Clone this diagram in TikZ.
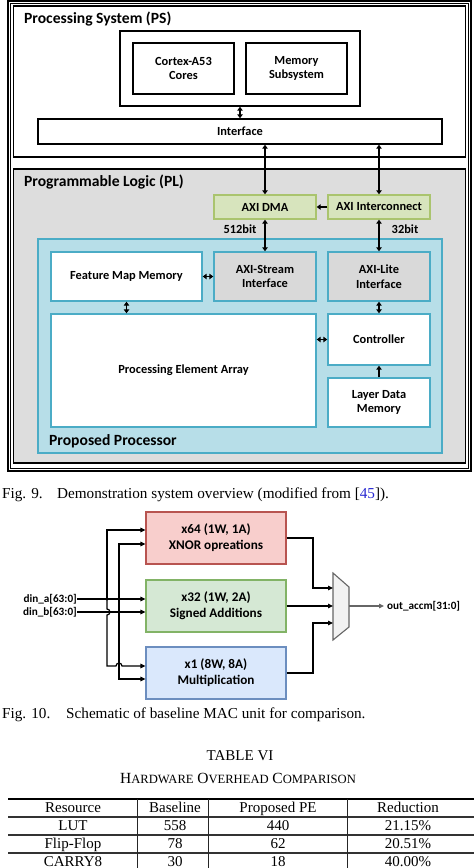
\documentclass[tikz,border=0pt]{standalone}
\usepackage{fontspec}
\setmainfont{Liberation Serif}
\newfontfamily\carl{Carlito}
\usetikzlibrary{arrows.meta,calc}
\definecolor{plgray}{RGB}{221,221,221}
\definecolor{axigreen}{RGB}{215,228,189}
\definecolor{axigreenb}{RGB}{170,196,110}
\definecolor{ppfill}{RGB}{183,222,232}
\definecolor{ppline}{RGB}{75,172,198}
\definecolor{ifgray}{RGB}{217,217,217}
\definecolor{xnorfill}{RGB}{248,206,204}
\definecolor{xnorline}{RGB}{184,84,80}
\definecolor{addfill}{RGB}{213,232,212}
\definecolor{addline}{RGB}{130,179,102}
\definecolor{mulfill}{RGB}{218,232,252}
\definecolor{mulline}{RGB}{108,142,191}
\definecolor{muxfill}{RGB}{242,242,242}
\definecolor{muxline}{RGB}{102,102,102}
\definecolor{citeblue}{RGB}{40,40,210}
\newcommand{\fsc}[2]{{\fontsize{15.5}{16}\selectfont #1}{\fontsize{12.6}{13}\selectfont #2}}
\begin{document}
\begin{tikzpicture}[x=1pt,y=-1pt,
  box/.style={draw, line width=1.4pt, align=center, inner sep=0pt,
    font=\carl\bfseries\fontsize{12.4}{14.5}\selectfont},
  blbox/.style={box, draw=ppline, fill=white},
  gbox/.style={box, draw=ppline, fill=ifgray},
  axbox/.style={box, draw=axigreenb, fill=axigreen},
  ttl/.style={font=\carl\bfseries\fontsize{15.6}{18}\selectfont, anchor=base west, inner sep=0pt},
  lbl/.style={font=\carl\bfseries\fontsize{12.4}{14}\selectfont, anchor=base, inner sep=0pt},
  darr/.style={{Triangle[length=4pt,width=5.5pt]}-{Triangle[length=4pt,width=5.5pt]}, line width=1.6pt},
  sarr/.style={-{Triangle[length=4pt,width=5.5pt]}, line width=1.6pt},
  mbox/.style={draw, line width=1.1pt, align=center, inner sep=0pt,
    minimum width=140pt, minimum height=52pt,
    font=\carl\bfseries\fontsize{13.2}{16}\selectfont},
  warr/.style={-{Triangle[length=5pt,width=4.5pt]}, line width=1.2pt},
  sig/.style={font=\carl\bfseries\fontsize{11.2}{13}\selectfont, inner sep=0pt},
  captxt/.style={font=\fontsize{15.2}{17}\selectfont, anchor=base west, inner sep=0pt},
  tabtxt/.style={font=\fontsize{15}{17}\selectfont, anchor=base, inner sep=0pt},
  jdot/.style={circle, fill=black, inner sep=0pt, minimum size=3.2pt}
]
\useasboundingbox (0,0) rectangle (474,868);
\fill[white] (0,0) rectangle (474,868);

% ---------- Fig. 9 ----------
\draw[line width=1.2pt] (8,1) rectangle (471,471);
\draw[line width=0.8pt] (10.5,3.5) rectangle (468.5,468.5);
% PS
\draw[line width=1.5pt, fill=white] (13.5,6) rectangle (465.5,157);
\node[ttl] (pstitle) at (24,23.5) {Processing System (PS)};
\node[box, fill=white, minimum width=240pt, minimum height=75pt] (cont) at (240,68.5) {};
\node[box, minimum width=101pt, minimum height=51pt] (cortex) at (183.5,68.5) {Cortex-A53\\Cores};
\node[box, minimum width=101pt, minimum height=51pt] (memsub) at (296.5,68.5) {Memory\\Subsystem};
\node[box, minimum width=404pt, minimum height=25pt] (iface) at (240,131.5) {Interface};
\draw[darr] (cont.south) -- (iface.north);

% PL
\draw[line width=1.5pt, fill=plgray] (13.5,169) rectangle (465.5,463);
\node[ttl] (pltitle) at (24,186.7) {Programmable Logic (PL)};
\node[axbox, minimum width=102pt, minimum height=24pt] (dma) at (265,207) {AXI DMA};
\node[axbox, minimum width=102pt, minimum height=24pt] (ic) at (379,207) {AXI Interconnect};
\draw[sarr] (ic.west) -- (dma.east);
\draw[darr] (dma.north |- iface.south) -- (dma.north);
\draw[darr] (ic.north |- iface.south) -- (ic.north);
\node[lbl] (l512) at (240,233) {512bit};
\node[lbl] (l32) at (405,233) {32bit};

% Proposed processor
\draw[line width=1.5pt, draw=ppline, fill=ppfill] (38,239) rectangle (442,453);
\node[ttl] (pptitle) at (49,445) {Proposed Processor};
\node[blbox, minimum width=151pt, minimum height=49pt] (fmm) at (126.5,276.5) {Feature Map Memory};
\node[gbox, minimum width=102pt, minimum height=49pt] (stream) at (265,276.5) {AXI-Stream\\Interface};
\node[gbox, minimum width=102pt, minimum height=49pt] (lite) at (379,276.5) {AXI-Lite\\Interface};
\node[blbox, minimum width=265pt, minimum height=113pt] (pe) at (183.5,370.5) {Processing Element Array};
\node[blbox, minimum width=102pt, minimum height=51pt] (ctrl) at (379,339.5) {Controller};
\node[blbox, minimum width=102pt, minimum height=49pt] (ldm) at (379,402.5) {Layer Data\\Memory};
\draw[darr] (dma.south) -- (stream.north);
\draw[darr] (ic.south) -- (lite.north);
\draw[darr] (fmm.east) -- (stream.west);
\draw[darr] (fmm.south) -- (fmm.south |- pe.north);
\draw[darr] (lite.south) -- (ctrl.north);
\draw[darr] (pe.east |- ctrl.west) -- (ctrl.west);
\draw[sarr] (ldm.north) -- (ctrl.south);

% caption 9
\node[captxt] (f9) at (2,498) {Fig. 9.};
\node[captxt] (c9) at (57,498) {Demonstration system overview (modified from [\textcolor{citeblue}{45}]).};

% ---------- Fig. 10 ----------
\node[mbox, draw=xnorline, fill=xnorfill] (xnor) at (216,538) {x64 (1W, 1A)\\XNOR opreations};
\node[mbox, draw=addline, fill=addfill] (add) at (216,606) {x32 (1W, 2A)\\Signed Additions};
\node[mbox, draw=mulline, fill=mulfill] (mult) at (216,673) {x1 (8W, 8A)\\Multiplication};
\draw[line width=1.1pt, draw=muxline, fill=muxfill] (333,573) -- (349,587) -- (349,627) -- (333,640) -- cycle;
\coordinate (m1) at (333,588);
\coordinate (m2) at (333,606);
\coordinate (m3) at (333,623);
\coordinate (mout) at (349,606);
\node[sig, anchor=east] (dina) at (77,599) {din\_a[63:0]};
\node[sig, anchor=east] (dinb) at (77,612) {din\_b[63:0]};
\node[sig, anchor=west] (outl) at (387,606) {out\_accm[31:0]};
\coordinate (ja) at (107,599);
\coordinate (jb) at (119,612);
\draw[warr] (dina.east) -- (add.west |- dina.east);
\draw[warr] (dinb.east) -- (add.west |- dinb.east);
\draw[warr] (ja) |- ($(xnor.west)+(0,-8)$);
\draw[warr] (ja) -- (107,609) arc (-90:90:3) -- (107,666) -- (116,666) arc (180:360:3) -- ($(mult.west)+(0,-7)$);
\draw[warr] (jb) |- ($(xnor.west)+(0,6)$);
\draw[warr] (jb) |- ($(mult.west)+(0,6)$);
\node[jdot] at (ja) {};
\node[jdot] at (jb) {};
\draw[warr] (xnor.east) -| ($(m1)+(-20,0)$) -- (m1);
\draw[warr] (add.east) -- (m2);
\draw[warr] (mult.east) -| ($(m3)+(-20,0)$) -- (m3);
\draw[-{Triangle[length=5pt,width=4.5pt]}, line width=1.1pt, draw=muxline] (mout) -- ($(outl.west)+(-3,0)$);

% caption 10
\node[captxt] (f10) at (2,718) {Fig. 10.};
\node[captxt] (c10) at (66,718) {Schematic of baseline MAC unit for comparison.};

% ---------- Table VI ----------
\node[tabtxt] (tt) at (240,760) {TABLE VI};
\node[tabtxt] (ts) at (238,783) {\fsc{H}{ARDWARE} \fsc{O}{VERHEAD} \fsc{C}{OMPARISON}};
\draw[line width=1.4pt] (8,799) -- (474,799);
\draw[line width=1.2pt, black!80] (8,817) -- (474,817);
\draw[line width=1.2pt, black!80] (8,835) -- (474,835);
\draw[line width=1.2pt, black!80] (8,853) -- (474,853);
\foreach \xx in {137,208,347} \draw[line width=0.9pt, black!85] (\xx,799) -- (\xx,870);
\node[tabtxt] (h1) at (73,812) {Resource};
\node[tabtxt] (h2) at (175,812) {Baseline};
\node[tabtxt] (h3) at (278,812) {Proposed PE};
\node[tabtxt] (h4) at (408,812) {Reduction};
\node[tabtxt] (r11) at (73,830) {LUT};
\node[tabtxt] (r12) at (175,830) {558};
\node[tabtxt] (r13) at (278,830) {440};
\node[tabtxt] (r14) at (408,830) {21.15\%};
\node[tabtxt] (r21) at (73,848) {Flip-Flop};
\node[tabtxt] (r22) at (175,848) {78};
\node[tabtxt] (r23) at (278,848) {62};
\node[tabtxt] (r24) at (408,848) {20.51\%};
\node[tabtxt] (r31) at (73,866) {CARRY8};
\node[tabtxt] (r32) at (175,866) {30};
\node[tabtxt] (r33) at (278,866) {18};
\node[tabtxt] (r34) at (408,866) {40.00\%};
\end{tikzpicture}
\end{document}
